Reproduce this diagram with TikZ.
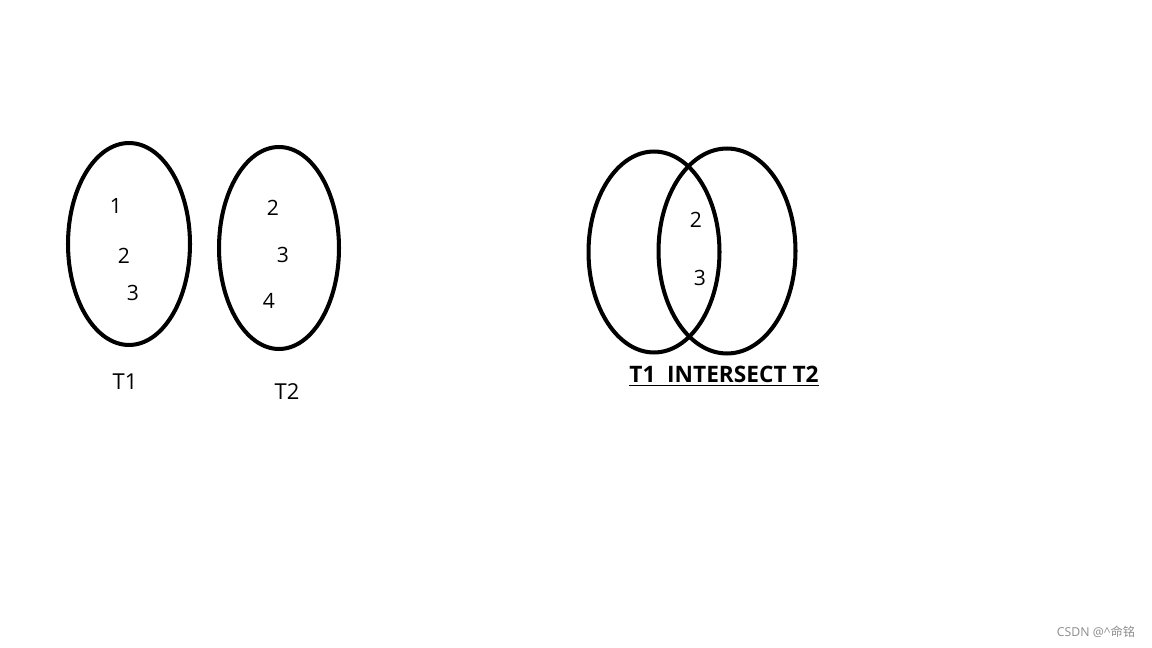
\documentclass[tikz,border=0pt]{standalone}
\usepackage{fontspec}
\setmainfont{Open Sans}
\newfontfamily\cjkfont{Noto Sans CJK SC}
\usepackage{tikz}
\usetikzlibrary{
	shapes.geometric,
	positioning
}

\tikzset{
	setring/.style={draw,ellipse,line width=2.3pt,inner sep=0pt},
	elem/.style={font=\fontsize{12}{14}\selectfont,inner sep=1pt},
	setname/.style={font=\fontsize{12.5}{15}\selectfont,inner sep=1pt}
}

\begin{document}
\begin{tikzpicture}[x=0.02cm,y=-0.02cm]
	\useasboundingbox (0,0) rectangle (1152,648);

	% two separate sets
	\node [setring,minimum width=2.44cm,minimum height=4.04cm] (s1) at (129,244) {};
	\node [setring,minimum width=2.40cm,minimum height=4.04cm] (s2) at (279,248) {};
	\node [elem] (a1) at (116,206) {1};
	\node [elem] (a2) at (124,256) {2};
	\node [elem] (a3) at (133,293) {3};
	\node [elem] (b2) at (273,208) {2};
	\node [elem] (b3) at (283,255) {3};
	\node [elem] (b4) at (269,301) {4};
	\node [setname] (n1) at (125,382) {T1};
	\node [setname] (n2) at (287,392) {T2};

	% overlapping sets
	\node [setring,minimum width=2.62cm,minimum height=4.02cm] (r1) at (654,252) {};
	\node [setring,minimum width=2.74cm,minimum height=4.10cm] (r2) at (727,251) {};
	\node [elem] (c2) at (696,220) {2};
	\node [elem] (c3) at (700,278) {3};
	\node [font=\fontsize{12.9}{15}\selectfont,inner sep=1pt] (cap) at (724,376)
		{\underline{\textbf{T1\ \ INTERSECT T2}}};

	\node [text=black!45,font=\fontsize{7}{8}\selectfont] (mark) at (1096,632)
		{CSDN @\^{}{\cjkfont 命铭}};
\end{tikzpicture}
\end{document}
